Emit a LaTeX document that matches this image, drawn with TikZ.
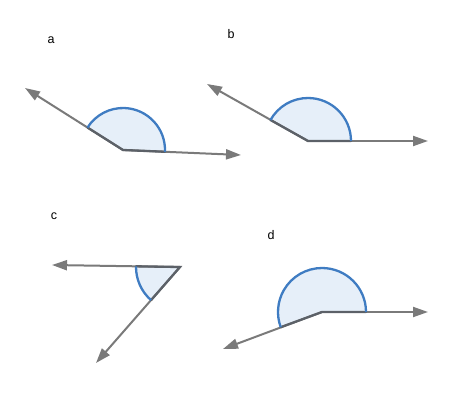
\documentclass[tikz,border=0pt]{standalone}
\usepackage{fontspec}
\setmainfont{Liberation Sans}
\usetikzlibrary{arrows.meta,calc}
\definecolor{raygray}{HTML}{7A7A7A}
\definecolor{edgegray}{HTML}{5C6168}
\definecolor{arcblue}{HTML}{3F7CC2}
\definecolor{secfill}{HTML}{E6EFF9}
\tikzset{
  ray/.style={draw=raygray, line width=2pt, -{Triangle[length=15pt,width=10pt]}},
  inner/.style={draw=edgegray, line width=2.3pt, line cap=round},
  arcline/.style={draw=arcblue, line width=2.3pt},
  sector/.style={fill=secfill},
  lbl/.style={font=\fontsize{12.5}{14}\selectfont, inner sep=0pt}
}
\newcommand{\angpanel}[7]{%
  \coordinate (#1v) at #2;
  \coordinate (#1t1) at #3;
  \coordinate (#1t2) at #4;
  \fill[sector] (#1v) -- ++(#5:#7) arc[start angle=#5, end angle=#6, radius=#7] -- cycle;
  \draw[ray] (#1v) -- (#1t1);
  \draw[ray] (#1v) -- (#1t2);
  \coordinate (#1e1) at ($(#1v)+(#5:#7)$);
  \coordinate (#1e2) at ($(#1v)+(#6:#7)$);
  \draw[inner] (#1e1) -- (#1v) -- (#1e2);
  \draw[arcline] (#1e1) arc[start angle=#5, end angle=#6, radius=#7];
}
\begin{document}
\begin{tikzpicture}[x=1pt,y=1pt]
\useasboundingbox (0,0) rectangle (449,410);
\angpanel{a}{(123,260)}{(241,255)}{(25,322)}{-2.4}{147.7}{42}
\angpanel{b}{(308,269)}{(428,269)}{(207,326)}{0}{150.75}{43}
\angpanel{c}{(180,143)}{(52,145)}{(96,47)}{179.1}{228.9}{44}
\angpanel{d}{(322,98)}{(428,98)}{(223,61)}{0}{200.2}{44}
\node[lbl] (la) at (51,370) {a};
\node[lbl] (lb) at (231,376) {b};
\node[lbl] (lc) at (54,194) {c};
\node[lbl] (ld) at (271,175) {d};
\end{tikzpicture}
\end{document}
